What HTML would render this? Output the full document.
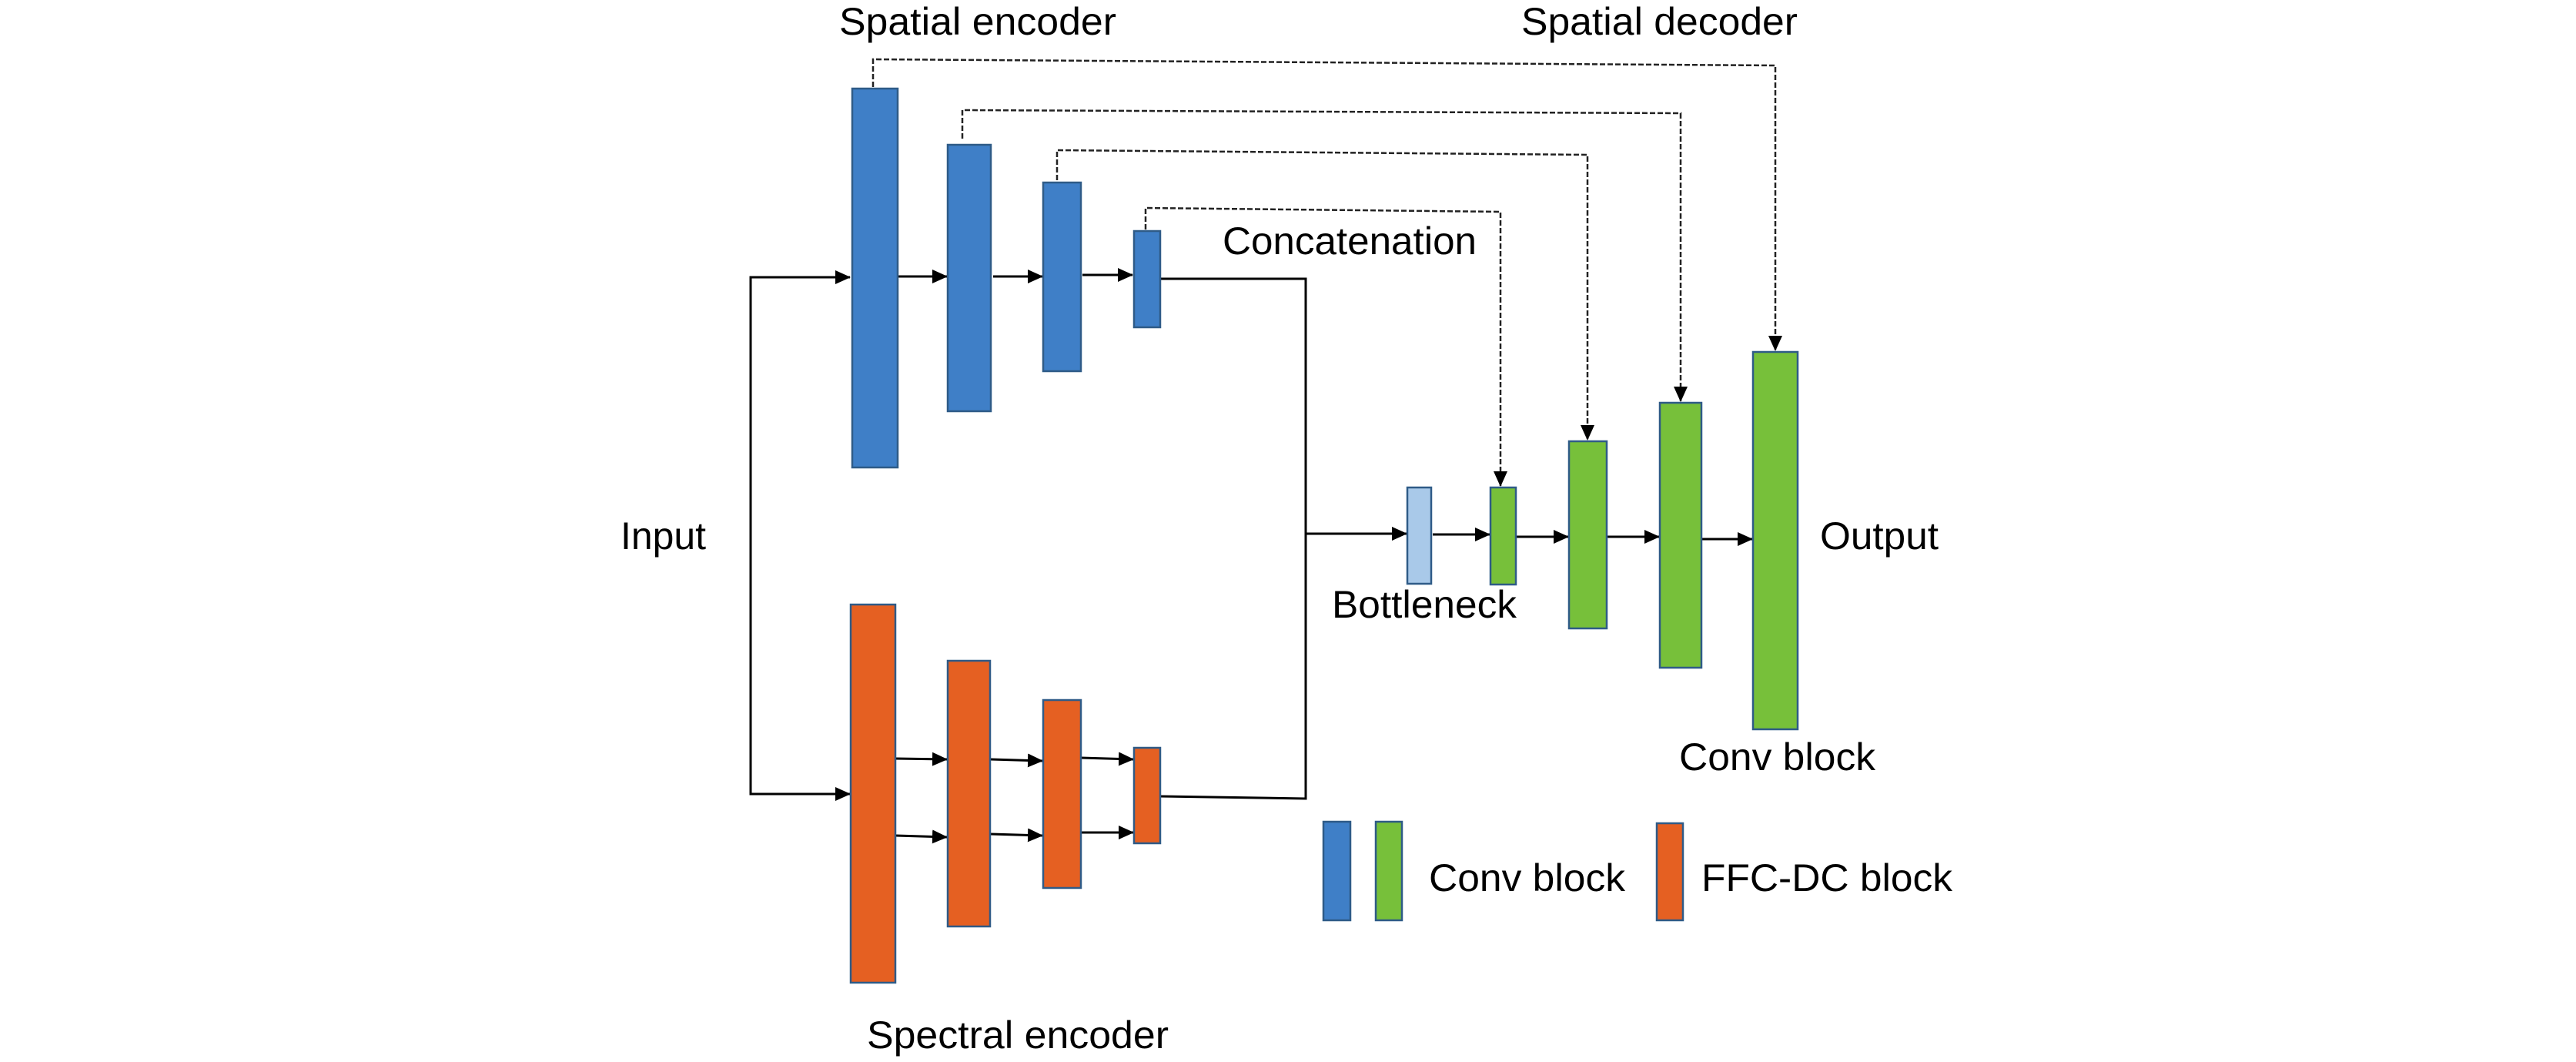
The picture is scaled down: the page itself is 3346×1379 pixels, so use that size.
<!DOCTYPE html>
<html><head><meta charset="utf-8"><style>
html,body{margin:0;padding:0;background:#fff;}
svg{display:block;}
text{font-family:"Liberation Sans",Arial,sans-serif;fill:#000;}
</style></head><body>
<svg width="3346" height="1379" viewBox="0 0 3346 1379" xmlns="http://www.w3.org/2000/svg">
<defs>
<marker id="ah" markerWidth="20" markerHeight="18" refX="19" refY="9" orient="auto" markerUnits="userSpaceOnUse">
<path d="M0,0 L20,9 L0,18 Z" fill="#000"/>
</marker>
</defs>
<rect width="3346" height="1379" fill="#fff"/>

<g stroke="#000" stroke-width="3" fill="none">
<polyline points="975,1031 975,360 1104,360" marker-end="url(#ah)"/>
<polyline points="975,360 975,1031 1104,1031" marker-end="url(#ah)"/>
<line x1="1166" y1="359" x2="1230" y2="359" marker-end="url(#ah)"/>
<line x1="1290" y1="359" x2="1354" y2="359" marker-end="url(#ah)"/>
<line x1="1406" y1="357" x2="1471" y2="357" marker-end="url(#ah)"/>
<polyline points="1507,362 1696,362 1696,1037 1507,1034"/>
<line x1="1696" y1="693" x2="1827" y2="693" marker-end="url(#ah)"/>
<line x1="1861" y1="694" x2="1935" y2="694" marker-end="url(#ah)"/>
<line x1="1970" y1="697" x2="2037" y2="697" marker-end="url(#ah)"/>
<line x1="2088" y1="697" x2="2155" y2="697" marker-end="url(#ah)"/>
<line x1="2211" y1="700" x2="2276" y2="700" marker-end="url(#ah)"/>
<line x1="1164" y1="985" x2="1230" y2="986" marker-end="url(#ah)"/>
<line x1="1164" y1="1085" x2="1230" y2="1087" marker-end="url(#ah)"/>
<line x1="1287" y1="986" x2="1354" y2="988" marker-end="url(#ah)"/>
<line x1="1287" y1="1083" x2="1354" y2="1085" marker-end="url(#ah)"/>
<line x1="1404" y1="984" x2="1472" y2="986" marker-end="url(#ah)"/>
<line x1="1404" y1="1081" x2="1472" y2="1081" marker-end="url(#ah)"/>
</g>

<g stroke="#222" stroke-width="2.5" fill="none" stroke-dasharray="7,3">
<polyline points="1134,113 1134,77 2306,85 2306,455" marker-end="url(#ah)"/>
<polyline points="1250,180 1250,143 2183,147 2183,521" marker-end="url(#ah)"/>
<polyline points="1373,234 1373,195 2062,201 2062,571" marker-end="url(#ah)"/>
<polyline points="1488,298 1488,270 1949,275 1949,631" marker-end="url(#ah)"/>
</g>

<g stroke="#2f5b87" stroke-width="2.5">
<rect x="1107" y="115" width="59" height="492" fill="#3f7fc7"/>
<rect x="1231" y="188" width="56" height="346" fill="#3f7fc7"/>
<rect x="1355" y="237" width="49" height="245" fill="#3f7fc7"/>
<rect x="1473" y="300" width="34" height="125" fill="#3f7fc7"/>
<rect x="1105" y="785" width="58" height="491" fill="#e56022"/>
<rect x="1231" y="858" width="55" height="345" fill="#e56022"/>
<rect x="1355" y="909" width="49" height="244" fill="#e56022"/>
<rect x="1473" y="971" width="34" height="124" fill="#e56022"/>
<rect x="1828" y="633" width="31" height="125" fill="#a9c9e9"/>
<rect x="1936" y="633" width="33" height="126" fill="#77c03a"/>
<rect x="2038" y="573" width="49" height="243" fill="#77c03a"/>
<rect x="2156" y="523" width="54" height="344" fill="#77c03a"/>
<rect x="2277" y="457" width="58" height="490" fill="#77c03a"/>
<rect x="1719" y="1067" width="35" height="128" fill="#3f7fc7"/>
<rect x="1787" y="1067" width="34" height="128" fill="#77c03a"/>
<rect x="2152" y="1069" width="34" height="126" fill="#e56022"/>
</g>

<g font-size="50">
<text x="1090" y="45" textLength="360" lengthAdjust="spacingAndGlyphs">Spatial encoder</text>
<text x="1976" y="45" textLength="359" lengthAdjust="spacingAndGlyphs">Spatial decoder</text>
<text x="1588" y="330" textLength="330" lengthAdjust="spacingAndGlyphs">Concatenation</text>
<text x="806" y="713" textLength="111" lengthAdjust="spacingAndGlyphs">Input</text>
<text x="2364" y="713" textLength="154" lengthAdjust="spacingAndGlyphs">Output</text>
<text x="1730" y="802" textLength="240" lengthAdjust="spacingAndGlyphs">Bottleneck</text>
<text x="2181" y="1000" textLength="255" lengthAdjust="spacingAndGlyphs">Conv block</text>
<text x="1126" y="1361" textLength="392" lengthAdjust="spacingAndGlyphs">Spectral encoder</text>
<text x="1856" y="1157" textLength="255" lengthAdjust="spacingAndGlyphs">Conv block</text>
<text x="2210" y="1157" textLength="326" lengthAdjust="spacingAndGlyphs">FFC-DC block</text>
</g>
</svg>
</body></html>
